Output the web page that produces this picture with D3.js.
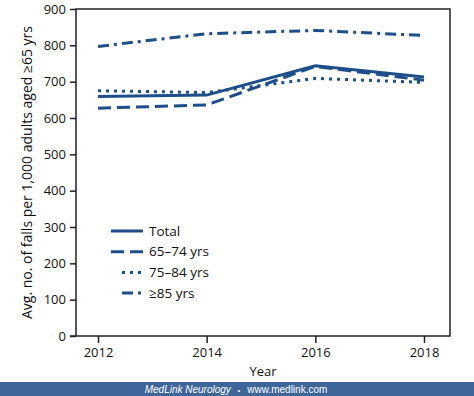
<!DOCTYPE html>
<html>
<head>
<meta charset="utf-8">
<script src="https://cdn.jsdelivr.net/npm/d3@7"></script>
<style>
  body { margin: 0; background: #fff; }
  svg { display: block; }
</style>
</head>
<body>
<script>
// data
var years = [2012, 2014, 2016, 2018];
var total = [659, 663, 744, 713];
var age6574 = [627, 636, 742, 704];
var age7584 = [675, 670, 709, 698];
var age85 = [797, 832, 841, 827];
var yTicks = [0, 100, 200, 300, 400, 500, 600, 700, 800, 900];
var seriesNames = ['Total', '65\u201374 yrs', '75\u201384 yrs', '\u226585 yrs'];

var width = 474;
var height = 396;
var blue = '#1d4e89';
var font = '"Open Sans", "Noto Sans", sans-serif';

var series = [
  { name: seriesNames[0], values: total, dash: null },
  { name: seriesNames[1], values: age6574, dash: '13,6' },
  { name: seriesNames[2], values: age7584, dash: '3,5' },
  { name: seriesNames[3], values: age85, dash: '11,5,3,5' }
];

var box = { left: 76, right: 450, top: 9, bottom: 336 };

var svg = d3.select('body').append('svg')
  .attr('width', width)
  .attr('height', height);

var x = d3.scaleLinear().domain([2012, 2018]).range([98, 424]);
var y = d3.scaleLinear().domain([0, 900]).range([box.bottom, box.top]);

// frame
svg.append('rect')
  .attr('x', box.left)
  .attr('y', box.top)
  .attr('width', box.right - box.left)
  .attr('height', box.bottom - box.top)
  .attr('fill', 'none')
  .attr('stroke', '#222')
  .attr('stroke-width', 1.5);

var yAxis = svg.append('g')
  .attr('transform', 'translate(' + box.left + ',0)')
  .call(d3.axisLeft(y).tickValues(yTicks).tickSize(6).tickPadding(4).tickSizeOuter(0));

var xAxis = svg.append('g')
  .attr('transform', 'translate(0,' + box.bottom + ')')
  .call(d3.axisBottom(x).tickValues(years).tickFormat(d3.format('d')).tickSize(7).tickPadding(5).tickSizeOuter(0));

[yAxis, xAxis].forEach(function(g) {
  g.select('.domain').remove();
  g.selectAll('line').attr('stroke', '#222').attr('stroke-width', 1.5);
  g.selectAll('text')
    .attr('fill', '#111')
    .style('font-family', font)
    .style('font-size', '13px');
});

// extend bottom line to the 0 tick
svg.append('line')
  .attr('x1', box.left - 6).attr('x2', box.left)
  .attr('y1', box.bottom).attr('y2', box.bottom)
  .attr('stroke', '#222').attr('stroke-width', 1.5);

svg.append('text')
  .attr('transform', 'translate(27,' + ((box.top + box.bottom) / 2) + ') rotate(-90)')
  .attr('text-anchor', 'middle')
  .attr('dy', '0.35em')
  .style('font-family', font)
  .style('font-size', '14px')
  .attr('fill', '#111')
  .text('Avg. no. of falls per 1,000 adults aged \u226565 yrs');

svg.append('text')
  .attr('x', (box.left + box.right) / 2)
  .attr('y', 376)
  .attr('text-anchor', 'middle')
  .style('font-family', font)
  .style('font-size', '13px')
  .attr('fill', '#111')
  .text('Year');

var line = d3.line()
  .x(function(d, i) { return x(years[i]); })
  .y(function(d) { return y(d); });

svg.selectAll('path.series')
  .data(series)
  .enter().append('path')
  .attr('class', 'series')
  .attr('d', function(d) { return line(d.values); })
  .attr('fill', 'none')
  .attr('stroke', blue)
  .attr('stroke-width', 3)
  .attr('stroke-dasharray', function(d) { return d.dash; });

// legend
var legend = svg.selectAll('g.legend')
  .data(series)
  .enter().append('g')
  .attr('class', 'legend')
  .attr('transform', function(d, i) { return 'translate(0,' + (231 + i * 20.7) + ')'; });

legend.append('line')
  .attr('x1', function(d, i) { return i >= 2 ? 122 : 111; })
  .attr('x2', 143)
  .attr('stroke', blue)
  .attr('stroke-width', 3)
  .attr('stroke-dasharray', function(d) { return d.dash; });

legend.append('text')
  .attr('x', 149)
  .attr('dy', '0.35em')
  .style('font-family', font)
  .style('font-size', '13.5px')
  .attr('fill', '#111')
  .text(function(d) { return d.name; });

// footer band
svg.append('rect')
  .attr('x', 0).attr('y', 382)
  .attr('width', width).attr('height', 14)
  .attr('fill', '#3f6699');

var foot = svg.append('text')
  .attr('x', 236)
  .attr('y', 392.5)
  .attr('text-anchor', 'middle')
  .style('font-family', '"Liberation Sans", Arial, sans-serif')
  .style('font-size', '10px')
  .attr('fill', '#fff');
foot.append('tspan').style('font-style', 'italic').text('MedLink Neurology');
foot.append('tspan').attr('dx', 7).style('font-size', '7px').text('\u2022');
foot.append('tspan').attr('dx', 7).text('www.medlink.com');
</script>
</body>
</html>
